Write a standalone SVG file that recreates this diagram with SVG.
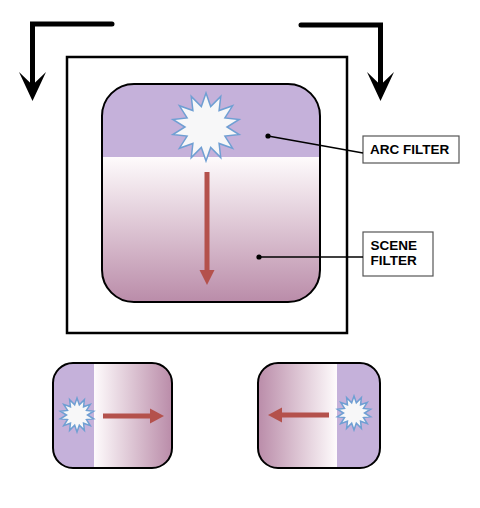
<svg xmlns="http://www.w3.org/2000/svg" width="480" height="508" viewBox="0 0 480 508">
<style>
.blk{stroke:#000;stroke-width:5;fill:none;stroke-linecap:round;stroke-linejoin:miter}
.head{fill:#000}
.red{stroke:#b4514c;stroke-width:5;fill:none}
.redhead{fill:#b4514c}
.outline{fill:none;stroke:#000;stroke-width:2}
.star{fill:#f7f7f8;stroke:#6f9fd3;stroke-width:1.5}
.purple{fill:#c5b1da}
.lbl{fill:#fff;stroke:#555;stroke-width:1.2}
.txt{font-family:"Liberation Sans",Arial,sans-serif;font-weight:bold;font-size:13.5px;fill:#000}
.call{stroke:#000;stroke-width:1.5;fill:none}
</style>
<defs>
<linearGradient id="gv" x1="0" y1="0" x2="0" y2="1">
<stop offset="0" stop-color="#fefbfc"/>
<stop offset="1" stop-color="#ba8ca9"/>
</linearGradient>
<linearGradient id="gr" x1="0" y1="0" x2="1" y2="0">
<stop offset="0" stop-color="#fefbfc"/>
<stop offset="1" stop-color="#ba8ca9"/>
</linearGradient>
<linearGradient id="gl" x1="0" y1="0" x2="1" y2="0">
<stop offset="0" stop-color="#ba8ca9"/>
<stop offset="1" stop-color="#fefbfc"/>
</linearGradient>
<clipPath id="cm"><rect x="102" y="84" width="218" height="218" rx="32"/></clipPath>
<clipPath id="cl"><rect x="53" y="363" width="119" height="105" rx="20"/></clipPath>
<clipPath id="cr"><rect x="258" y="363" width="122" height="105" rx="20"/></clipPath>
<polygon id="star" points="0,-34 4.67,-20.47 14.75,-30.63 13.09,-16.42 26.58,-21.2 18.92,-9.11 33.15,-7.57 21,0 33.15,7.57 18.92,9.11 26.58,21.2 13.09,16.42 14.75,30.63 4.67,20.47 0,34 -4.67,20.47 -14.75,30.63 -13.09,16.42 -26.58,21.2 -18.92,9.11 -33.15,7.57 -21,0 -33.15,-7.57 -18.92,-9.11 -26.58,-21.2 -13.09,-16.42 -14.75,-30.63 -4.67,-20.47"/>
</defs>

<g id="outer-frame">
<rect x="67" y="57" width="280" height="276" fill="none" stroke="#000" stroke-width="2.5"/>
</g>

<g id="main-node">
<g clip-path="url(#cm)">
<rect class="purple" x="102" y="84" width="218" height="73"/>
<rect x="102" y="157" width="218" height="145" fill="url(#gv)"/>
</g>
<rect class="outline" x="102" y="84" width="218" height="218" rx="32"/>
<use href="#star" class="star" transform="translate(206,127)"/>
<line class="red" x1="207" y1="172" x2="207" y2="271"/>
<polygon class="redhead" points="199.5,270 214.5,270 207,285"/>
</g>

<g id="arc-filter">
<rect class="lbl" x="363" y="136" width="96" height="27"/>
<text class="txt" x="370" y="153.5">ARC FILTER</text>
</g>

<g id="scene-filter">
<rect class="lbl" x="363" y="232" width="70" height="44"/>
<text class="txt" x="370.5" y="249.5">SCENE</text>
<text class="txt" x="370.5" y="264.5">FILTER</text>
</g>

<g id="left-node">
<g clip-path="url(#cl)">
<rect class="purple" x="53" y="363" width="41" height="105"/>
<rect x="94" y="363" width="78" height="105" fill="url(#gr)"/>
</g>
<rect class="outline" x="53" y="363" width="119" height="105" rx="20"/>
<use href="#star" class="star" transform="translate(77,415) scale(0.5)" style="stroke-width:3"/>
<line class="red" x1="103" y1="416" x2="151" y2="416"/>
<polygon class="redhead" points="150,408.5 150,423.5 164,416"/>
</g>

<g id="right-node">
<g clip-path="url(#cr)">
<rect x="258" y="363" width="79" height="105" fill="url(#gl)"/>
<rect class="purple" x="337" y="363" width="43" height="105"/>
</g>
<rect class="outline" x="258" y="363" width="122" height="105" rx="20"/>
<use href="#star" class="star" transform="translate(354,413) scale(0.5)" style="stroke-width:3"/>
<line class="red" x1="329" y1="415" x2="281" y2="415"/>
<polygon class="redhead" points="282,407.5 282,422.5 268,415"/>
</g>

<g id="connectors">
<path class="blk" d="M112,24 L32.5,24 L32.5,88"/>
<path class="head" d="M19,72 L32.5,101 L46,72 L32.5,85 Z"/>
<path class="blk" d="M301,25 L380.5,25 L380.5,88"/>
<path class="head" d="M367,72 L380.5,101 L394,72 L380.5,85 Z"/>
<path class="call" d="M268,136 L363,153"/>
<circle cx="268" cy="136" r="2.6"/>
<path class="call" d="M259,257 L363,257"/>
<circle cx="259" cy="257" r="2.6"/>
</g>
</svg>
